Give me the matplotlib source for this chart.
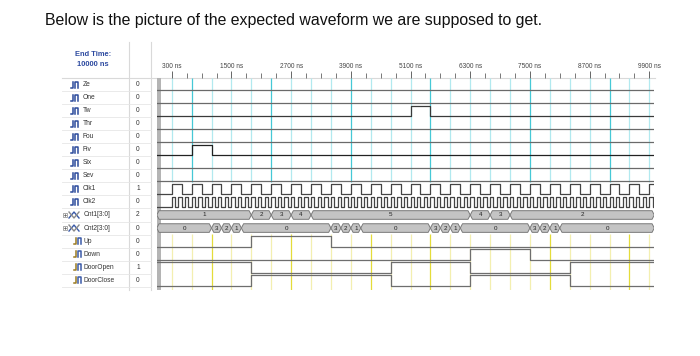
import numpy as np
import matplotlib.pyplot as plt
from matplotlib.patches import Polygon, Rectangle

plt.rcParams['font.family'] = ['Liberation Sans', 'DejaVu Sans']

# === Signals (times in ns) ===
names = ['Ze', 'One', 'Tw', 'Thr', 'Fou', 'Fiv', 'Six', 'Sev', 'Clk1', 'Clk2',
         'Cnt1[3:0]', 'Cnt2[3:0]', 'Up', 'Down', 'DoorOpen', 'DoorClose']
end_values = ['0', '0', '0', '0', '0', '0', '0', '0', '1', '0', '2', '0', '0', '0', '1', '0']
end_time = 10000

# one-bit signals: change times and levels
ze_t, ze_v = [0], [0]
one_t, one_v = [0], [0]
tw_t, tw_v = [0, 5100, 5500], [0, 1, 0]
thr_t, thr_v = [0], [0]
fou_t, fou_v = [0], [0]
fiv_t, fiv_v = [0, 700, 1100], [0, 1, 0]
six_t, six_v = [0], [0]
sev_t, sev_v = [0], [0]
up_t, up_v = [0, 1900, 3500], [0, 1, 0]
down_t, down_v = [0, 6300, 7500], [0, 1, 0]
open_t, open_v = [0, 1900, 4700, 6300, 8300], [1, 0, 1, 0, 1]
close_t, close_v = [0, 1900, 4700, 6300, 8300], [0, 1, 0, 1, 0]

# clocks: first rising edge and period
clk1_first, clk1_period = 300, 400
clk2_first, clk2_period = 300, 400 / 3

# buses: segment start times and values
cnt1_t = [0, 1900, 2300, 2700, 3100, 6300, 6700, 7100]
cnt1_v = [1, 2, 3, 4, 5, 4, 3, 2]
cnt2_t = [0, 1100, 1300, 1500, 1700, 3500, 3700, 3900, 4100,
          5500, 5700, 5900, 6100, 7500, 7700, 7900, 8100]
cnt2_v = [0, 3, 2, 1, 0, 3, 2, 1, 0, 3, 2, 1, 0, 3, 2, 1, 0]

# ruler and marker lines
major_ticks = [300, 1500, 2700, 3900, 5100, 6300, 7500, 8700, 9900]
cyan_dark = [700, 2300, 3900, 5500, 7500, 9100]
yellow_bright = [1100, 2700, 4300, 5500, 7900, 9500]

# === Figure ===
W, H = 700, 356
fig = plt.figure(figsize=(W / 100, H / 100), dpi=100)
bg = fig.add_axes([0, 0, 1, 1])
bg.set_xlim(0, W)
bg.set_ylim(H, 0)
bg.axis('off')

row0, dy = 84.5, 13.05          # pixel centre of first row, row pitch
wave_x0, wave_x1 = 156.8, 654.3  # pixel span of 0 .. end_time
wave_top, wave_bot = 78.3, 290

ax = fig.add_axes([wave_x0 / W, 1 - wave_bot / H,
                   (wave_x1 - wave_x0) / W, (wave_bot - wave_top) / H])
ax.set_xlim(0, end_time)
ax.set_ylim((wave_bot - row0) / dy, (wave_top - row0) / dy)
ax.patch.set_alpha(0)
for s in ax.spines.values():
    s.set_visible(False)

# title
bg.text(45, 20, 'Below is the picture of the expected waveform we are supposed to get.',
        fontsize=11.4, va='center', ha='left', color='#111111')

# left panel frame
sep_col = '#d9d9d9'
bg.plot([62, 655], [wave_top, wave_top], color=sep_col, lw=0.8)
bg.plot([128.5, 128.5], [42, wave_bot], color=sep_col, lw=0.8)
bg.plot([150.5, 150.5], [42, wave_bot], color=sep_col, lw=0.8)
for i in range(len(names)):
    yb = row0 + dy * i + dy / 2
    bg.plot([62, 150.5], [yb, yb], color='#e6e6e6', lw=0.6)
bg.text(93, 55, 'End Time:', fontsize=5.4, fontweight='bold', color='#2d4aa0',
        ha='center', va='center')
bg.text(93, 65, '10000 ns', fontsize=5.4, fontweight='bold', color='#2d4aa0',
        ha='center', va='center')

# names, icons and values
for i, (n, v) in enumerate(zip(names, end_values)):
    y = row0 + dy * i
    if n.startswith('Cnt'):
        bg.add_patch(Rectangle((63, y - 2.2), 4.4, 4.4, fill=False, ec='#888888', lw=0.5))
        bg.plot([64, 66.4], [y, y], color='#555555', lw=0.5)
        bg.plot([65.2, 65.2], [y - 1.2, y + 1.2], color='#555555', lw=0.5)
        bg.plot([69, 74, 79], [y + 3, y - 3, y + 3], color='#3a5aa8', lw=1.0)
        bg.plot([69, 74, 79], [y - 3, y + 3, y - 3], color='#8a8a8a', lw=1.0)
        tx = 84
    else:
        col = '#2b4a9b' if i < 10 else '#3a5aa8'
        acc = '#2b4a9b' if i < 10 else '#9a7a20'
        x0 = 71 if i < 10 else 74
        bg.plot([x0, x0 + 2.2, x0 + 2.2], [y + 3, y + 3, y - 3], color=acc, lw=1.1)
        bg.plot([x0 + 3.5, x0 + 3.5, x0 + 6.8, x0 + 6.8], [y + 3, y - 3, y - 3, y + 3],
                color=col, lw=1.1)
        tx = 82.5 if i < 10 else 83
    bg.text(tx, y, n, fontsize=4.8, va='center', ha='left', color='#333333')
    bg.text(138, y, v, fontsize=4.8, va='center', ha='center', color='#333333')

# gray strip at time 0
ax.axvspan(0, 90, color='#b4b4b4', lw=0, zorder=0)

# marker lines
clk1_rise = np.arange(clk1_first, end_time, clk1_period)
cyan = ['#45c8d6' if t in cyan_dark else '#b2e9ef' for t in clk1_rise]
ax.vlines(clk1_rise, -0.5, 7.47, colors=cyan, lw=0.9, zorder=1)
yel = ['#e4dc3a' if t in yellow_bright else '#f3efb0' for t in clk1_rise]
ax.vlines(clk1_rise, 11.46, 15.75, colors=yel, lw=0.9, zorder=1)

# ruler on top
ax.xaxis.tick_top()
ax.set_xticks(major_ticks)
ax.set_xticklabels([f'{t} ns' for t in major_ticks])
ax.set_xticks(np.arange(300, end_time + 1, 300), minor=True)
ax.tick_params(axis='x', which='major', length=4.8, width=0.7, colors='#666666',
               labelsize=4.7, pad=1.2, labelcolor='#444444')
ax.tick_params(axis='x', which='minor', length=3.4, width=0.7, colors='#777777')
ax.set_yticks([])

HI, LO = 0.38, 0.42


def draw_bit(row, times, levels, color='#555555'):
    t = list(times) + [end_time]
    lv = list(levels) + [levels[-1]]
    y = [row + LO - (LO + HI) * l for l in lv]
    ax.step(t, y, where='post', color=color, lw=0.9, zorder=3)


def clock(first, period):
    t, lv = [0], [0]
    for r in np.arange(first, end_time, period):
        t += [r, r + period / 2]
        lv += [1, 0]
    return t, lv


bits = [(ze_t, ze_v), (one_t, one_v), (tw_t, tw_v), (thr_t, thr_v),
        (fou_t, fou_v), (fiv_t, fiv_v), (six_t, six_v), (sev_t, sev_v)]
line_cols = ['#6a6a6a', '#6a6a6a', '#3a3a3a', '#6a6a6a', '#6a6a6a', '#222222',
             '#6a6a6a', '#6a6a6a']
for i, (t, v) in enumerate(bits):
    draw_bit(i, t, v, line_cols[i])

c1t, c1v = clock(clk1_first, clk1_period)
draw_bit(8, c1t, c1v, '#444444')
c2t, c2v = clock(clk2_first, clk2_period)
draw_bit(9, c2t, c2v, '#444444')


def draw_bus(row, starts, values):
    ends = list(starts[1:]) + [end_time]
    h, d = 0.33, 45
    for t0, t1, v in zip(starts, ends, values):
        pts = [(t0, row), (t0 + d, row - h), (t1 - d, row - h), (t1, row),
               (t1 - d, row + h), (t0 + d, row + h)]
        ax.add_patch(Polygon(pts, closed=True, fc='#c4c4c4', ec='#7a7a7a', lw=0.7,
                             zorder=3))
        ax.text((t0 + t1) / 2, row, str(v), fontsize=4.5, ha='center', va='center',
                color='#222222', zorder=4)


draw_bus(10, cnt1_t, cnt1_v)
draw_bus(11, cnt2_t, cnt2_v)

lower = [(up_t, up_v), (down_t, down_v), (open_t, open_v), (close_t, close_v)]
for k, (t, v) in enumerate(lower):
    draw_bit(12 + k, t, v, '#6e6e6e')

fig.savefig('out.png', dpi=100)
